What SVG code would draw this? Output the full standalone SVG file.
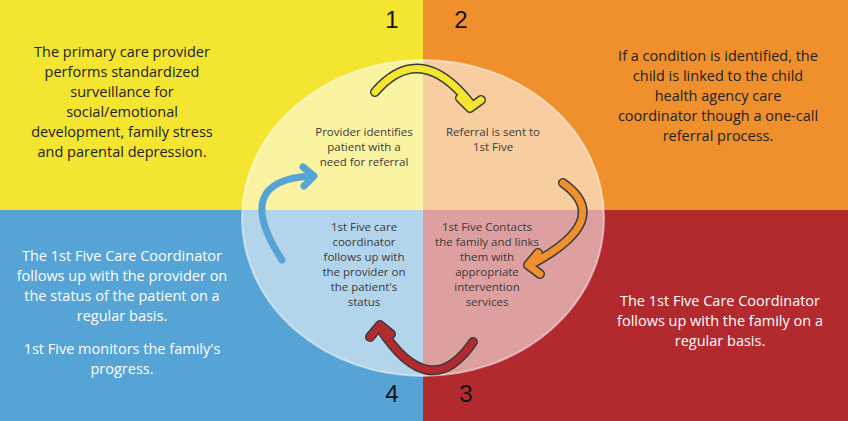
<svg xmlns="http://www.w3.org/2000/svg" width="848" height="421" viewBox="0 0 848 421">
<style>
.t{font-family:"Open Sans","Liberation Sans",sans-serif;font-size:14.5px;text-anchor:middle}
.c{font-family:"Open Sans","Liberation Sans",sans-serif;font-size:11.5px;text-anchor:middle;fill:#3a3a3a}
.n{font-family:"Liberation Sans",sans-serif;font-size:24px;text-anchor:middle;fill:#111}
.o{fill:none;stroke:#3a3a3a;stroke-width:10;stroke-linecap:round;stroke-linejoin:round}
.i{fill:none;stroke-width:7;stroke-linecap:round;stroke-linejoin:round}
</style>
<g id="quadrants">
<rect x="0" y="0" width="423" height="210" fill="#f4e531"/>
<rect x="423" y="0" width="425" height="210" fill="#f0902c"/>
<rect x="0" y="210" width="423" height="211" fill="#56a3d6"/>
<rect x="423" y="210" width="425" height="211" fill="#b32a2e"/>
<ellipse cx="423" cy="218" rx="181" ry="158" fill="#fff" fill-opacity="0.55" stroke="#fff" stroke-opacity="0.5" stroke-width="2"/>
</g>
<g id="n1"><text class="t" fill="#222"><tspan x="122" y="57">The primary care provider</tspan><tspan x="122" y="77">performs standardized</tspan><tspan x="122" y="97">surveillance for</tspan><tspan x="122" y="117">social/emotional</tspan><tspan x="122" y="137">development, family stress</tspan><tspan x="122" y="157">and parental depression.</tspan></text>
<text class="c"><tspan x="364" y="136">Provider identifies</tspan><tspan x="364" y="151">patient with a</tspan><tspan x="364" y="166">need for referral</tspan></text></g>
<g id="n2"><text class="t" fill="#222"><tspan x="718" y="61">If a condition is identified, the</tspan><tspan x="718" y="81">child is linked to the child</tspan><tspan x="718" y="101">health agency care</tspan><tspan x="718" y="121">coordinator though a one-call</tspan><tspan x="718" y="141">referral process.</tspan></text>
<text class="c"><tspan x="493" y="136">Referral is sent to</tspan><tspan x="493" y="151">1st Five</tspan></text></g>
<g id="n3"><text class="t" fill="#fff"><tspan x="720" y="306">The 1st Five Care Coordinator</tspan><tspan x="720" y="326">follows up with the family on a</tspan><tspan x="720" y="346">regular basis.</tspan></text>
<text class="c"><tspan x="487" y="231">1st Five Contacts</tspan><tspan x="487" y="246">the family and links</tspan><tspan x="487" y="261">them with</tspan><tspan x="487" y="276">appropriate</tspan><tspan x="487" y="291">intervention</tspan><tspan x="487" y="306">services</tspan></text></g>
<g id="n4"><text class="t" fill="#fff"><tspan x="122" y="261">The 1st Five Care Coordinator</tspan><tspan x="122" y="281">follows up with the provider on</tspan><tspan x="122" y="301">the status of the patient on a</tspan><tspan x="122" y="321">regular basis.</tspan><tspan x="122" y="354">1st Five monitors the family's</tspan><tspan x="122" y="374">progress.</tspan></text>
<text class="c"><tspan x="364" y="231">1st Five care</tspan><tspan x="364" y="246">coordinator</tspan><tspan x="364" y="261">follows up with</tspan><tspan x="364" y="276">the provider on</tspan><tspan x="364" y="291">the patient's</tspan><tspan x="364" y="306">status</tspan></text></g>
<g id="numbers"><text class="n" x="392" y="28">1</text><text class="n" x="461" y="28">2</text><text class="n" x="466" y="402">3</text><text class="n" x="392" y="402">4</text></g>
<g id="connectors">
<path class="o" d="M375 92 Q420 40 470 103 M460 98 L470 108 L481 100"/>
<path class="i" stroke="#f4e531" d="M375 92 Q420 40 470 103 M460 98 L470 108 L481 100"/>
<path class="o" d="M563 183 Q615 220 530 265 M538 253 L528 265 L540 274"/>
<path class="i" stroke="#f0902c" d="M563 183 Q615 220 530 265 M538 253 L528 265 L540 274"/>
<path class="o" d="M473 342 Q430 405 380 328 M370 337 L380 325 L391 334"/>
<path class="i" stroke="#b32a2e" d="M473 342 Q430 405 380 328 M370 337 L380 325 L391 334"/>
<path class="i" stroke="#56a3d6" d="M282 260 Q230 180 312 176 M303 167 L314 176 L304 186"/>
</g>
</svg>
